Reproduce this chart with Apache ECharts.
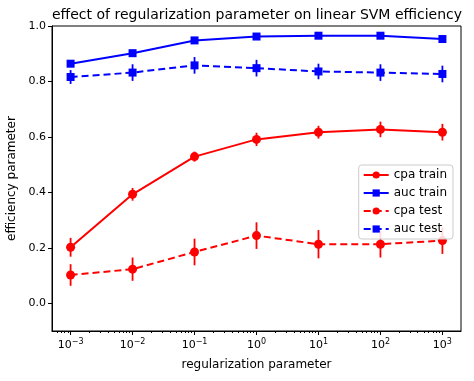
<!DOCTYPE html>
<html><head><meta charset="utf-8">
<script src="https://cdn.jsdelivr.net/npm/echarts@6/dist/echarts.min.js"></script>
<style>html,body{margin:0;padding:0;background:#fff}#c{width:474px;height:381px}</style>
</head><body><div id="c"></div>
<script>
// regularization parameter C = 10^exponent
const exponents = [-3, -2, -1, 0, 1, 2, 3];
const cpaTrain    = [0.202, 0.393, 0.529, 0.591, 0.617, 0.627, 0.617];
const cpaTrainErr = [0.034, 0.023, 0.018, 0.024, 0.023, 0.028, 0.030];
const aucTrain    = [0.864, 0.902, 0.948, 0.962, 0.965, 0.965, 0.953];
const aucTrainErr = [0.005, 0.005, 0.005, 0.004, 0.004, 0.004, 0.005];
const cpaTest     = [0.102, 0.123, 0.185, 0.244, 0.213, 0.213, 0.226];
const cpaTestErr  = [0.039, 0.042, 0.048, 0.048, 0.051, 0.048, 0.048];
const aucTest     = [0.816, 0.832, 0.858, 0.848, 0.836, 0.832, 0.827];
const aucTestErr  = [0.025, 0.030, 0.030, 0.030, 0.028, 0.030, 0.030];
const xTickExps = [-3, -2, -1, 0, 1, 2, 3];
const yTicks = [0.0, 0.2, 0.4, 0.6, 0.8, 1.0];
const titleText = 'effect of regularization parameter on linear SVM efficiency';

const RED = '#ff0000', BLUE = '#0000ff';
const FONT = 'DejaVu Sans';
const xMin = -3.3, xMax = 3.3;

const minorTicks = [];
for (let n = -4; n <= 3; n++) for (let k = 2; k <= 9; k++) {
  const v = Math.log10(k) + n;
  if (v > xMin && v < xMax) minorTicks.push(v);
}

function pts(vals) { return exponents.map((e, i) => [e, vals[i]]); }
function errs(vals, er) { return exponents.map((e, i) => [e, vals[i] - er[i], vals[i] + er[i]]); }

function lineSeries(name, vals, color, symbol, size, dashed) {
  return {
    name, type: 'line', data: pts(vals), symbol, symbolSize: size,
    itemStyle: { color }, lineStyle: { color, width: 2, type: dashed ? [7, 4] : 'solid' },
    z: 2, animation: false
  };
}
function errSeries(name, vals, er, color) {
  return {
    name, type: 'custom', data: errs(vals, er), encode: { x: 0, y: [1, 2] }, z: 2, animation: false,
    renderItem(params, api) {
      const x = api.value(0);
      const a = api.coord([x, api.value(1)]);
      const b = api.coord([x, api.value(2)]);
      return { type: 'line', shape: { x1: a[0], y1: a[1], x2: b[0], y2: b[1] }, style: { stroke: color, lineWidth: 1.8 } };
    }
  };
}

const chart = echarts.init(document.getElementById('c'), null, { renderer: 'canvas' });
chart.setOption({
  animation: false,
  backgroundColor: '#fff',
  textStyle: { fontFamily: FONT },
  title: { text: titleText, left: 47, top: 3, textStyle: { fontFamily: FONT, fontSize: 14, fontWeight: 'normal', color: '#000' } },
  grid: { left: 52, right: 13, top: 26, bottom: 50, containLabel: false, outerBoundsMode: 'none', show: true, borderColor: '#000', borderWidth: 1, backgroundColor: 'transparent' },
  legend: {
    orient: 'vertical', right: 21, top: 165, z: 10,
    data: ['cpa train', 'auc train', 'cpa test', 'auc test'],
    itemWidth: 25, itemHeight: 9, itemGap: 6,
    padding: [4, 6, 4, 4],
    backgroundColor: 'rgba(255,255,255,0.85)', borderColor: '#cccccc', borderWidth: 1, borderRadius: 3,
    textStyle: { fontFamily: FONT, fontSize: 12, color: '#000' }
  },
  xAxis: [{
    type: 'value', min: xMin, max: xMax,
    axisLine: { show: true, onZero: false, lineStyle: { color: '#000', width: 1 } },
    axisTick: { show: true, customValues: xTickExps, length: 4, inside: false, lineStyle: { color: '#000' } },
    axisLabel: {
      customValues: xTickExps, margin: 7, color: '#000', fontFamily: FONT,
      formatter: v => '{b|10}{s|' + (v < 0 ? '\u2212' + (-v) : String(v)) + '}',
      rich: { b: { fontSize: 11, fontFamily: FONT, color: '#000' }, s: { fontSize: 8, fontFamily: FONT, color: '#000', verticalAlign: 'bottom', padding: [0, 0, 7, 0] } }
    },
    splitLine: { show: false },
    name: 'regularization parameter', nameLocation: 'middle', nameGap: 28,
    nameTextStyle: { fontFamily: FONT, fontSize: 12, color: '#000' }
  }, {
    type: 'value', min: xMin, max: xMax, position: 'bottom',
    axisLine: { show: false, onZero: false },
    axisTick: { show: true, customValues: minorTicks, length: 2, lineStyle: { color: '#000' } },
    axisLabel: { show: false }, splitLine: { show: false }
  }],
  yAxis: {
    type: 'value', min: -0.1, max: 1.0,
    axisLine: { show: true, onZero: false, lineStyle: { color: '#000', width: 1 } },
    axisTick: { show: true, customValues: yTicks, length: 4, lineStyle: { color: '#000' } },
    axisLabel: { customValues: yTicks, formatter: v => v.toFixed(1), fontSize: 11, color: '#000', fontFamily: FONT, margin: 6 },
    splitLine: { show: false },
    name: 'efficiency parameter', nameLocation: 'middle', nameGap: 33,
    nameTextStyle: { fontFamily: FONT, fontSize: 12, color: '#000' }
  },
  series: [
    lineSeries('cpa train', cpaTrain, RED, 'circle', 9, false),
    lineSeries('auc train', aucTrain, BLUE, 'rect', 8, false),
    lineSeries('cpa test', cpaTest, RED, 'circle', 9, true),
    lineSeries('auc test', aucTest, BLUE, 'rect', 8, true),
    errSeries('cpa train err', cpaTrain, cpaTrainErr, RED),
    errSeries('auc train err', aucTrain, aucTrainErr, BLUE),
    errSeries('cpa test err', cpaTest, cpaTestErr, RED),
    errSeries('auc test err', aucTest, aucTestErr, BLUE)
  ]
});
</script></body></html>
